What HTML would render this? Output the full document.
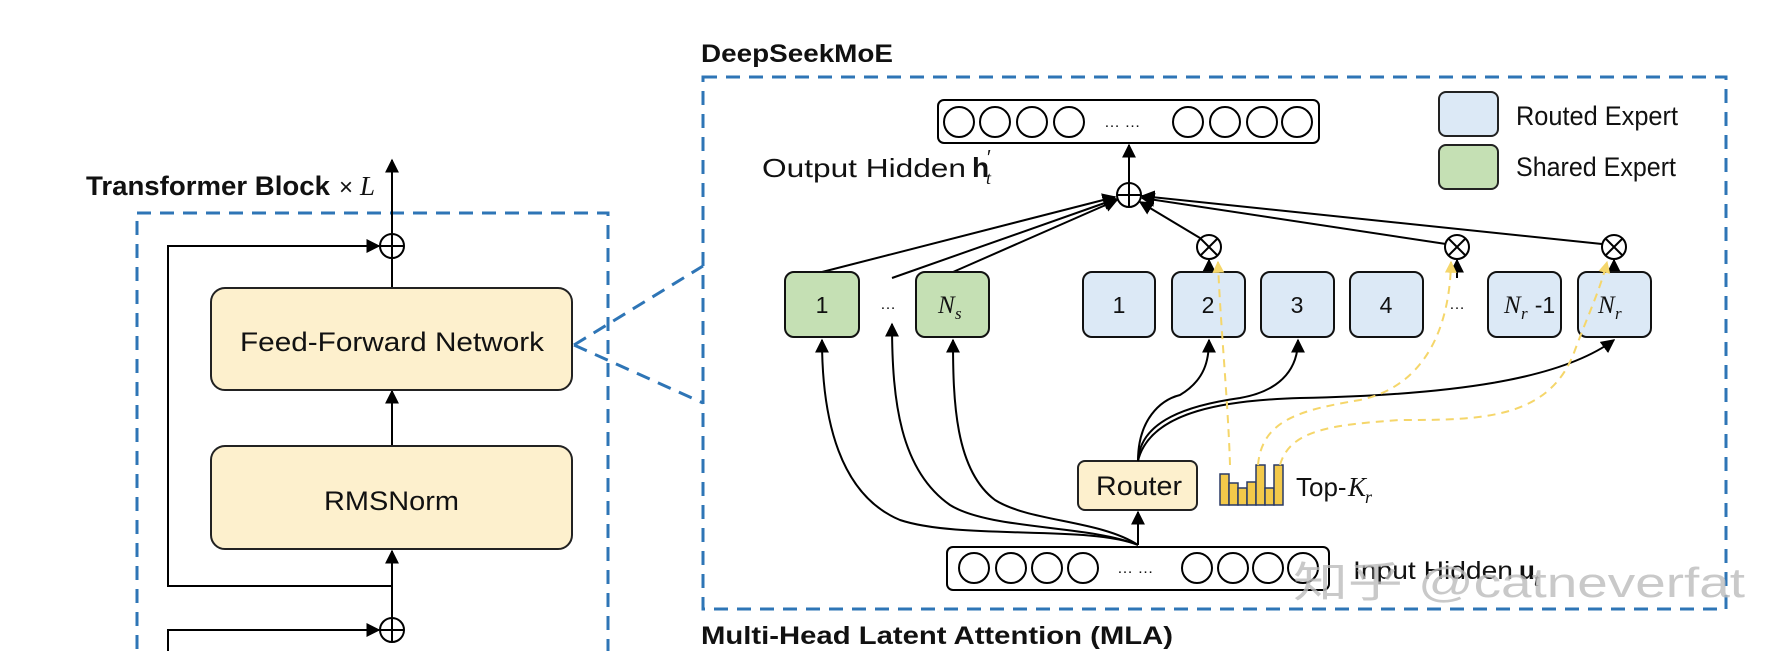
<!DOCTYPE html>
<html><head><meta charset="utf-8"><style>
html,body{margin:0;padding:0;background:#fff;}
svg{display:block;}
text{font-family:"Liberation Sans",sans-serif;fill:#111;}
.m{font-family:"Liberation Serif",serif;font-style:italic;}
</style></head><body>
<svg width="1792" height="651" viewBox="0 0 1792 651" xmlns="http://www.w3.org/2000/svg">
<defs>
<marker id="a" viewBox="0 0 10 10" refX="9" refY="5" markerWidth="7" markerHeight="7" orient="auto-start-reverse"><path d="M0,0 L10,5 L0,10 z" fill="#000"/></marker>
<marker id="y" viewBox="0 0 10 10" refX="9" refY="5" markerWidth="6" markerHeight="6" orient="auto"><path d="M0,0 L10,5 L0,10 z" fill="#f5d66a"/></marker>
</defs>
<rect width="1792" height="651" fill="#fff"/>
<g fill="none" stroke="#2e75b6" stroke-width="3" stroke-dasharray="14,9">
<rect x="137" y="213" width="471" height="460"/>
<rect x="703" y="77" width="1023" height="532"/>
<path d="M574,345 L703,266 M574,345 L703,403"/>
</g>
<text x="86" y="195" font-size="27" font-weight="bold" textLength="244" lengthAdjust="spacingAndGlyphs">Transformer Block</text>
<text x="339" y="195" font-size="24">×</text><text x="360" y="195" font-size="27" class="m">L</text>
<text x="701" y="62" font-size="25" font-weight="bold" textLength="192" lengthAdjust="spacingAndGlyphs">DeepSeekMoE</text>
<text x="701" y="644" font-size="25" font-weight="bold" textLength="472" lengthAdjust="spacingAndGlyphs">Multi-Head Latent Attention (MLA)</text>
<g stroke="#000" stroke-width="2" fill="none">
<line x1="392" y1="288" x2="392" y2="258"/>
<line x1="392" y1="234" x2="392" y2="160" marker-end="url(#a)"/>
<line x1="392" y1="446" x2="392" y2="391" marker-end="url(#a)"/>
<line x1="392" y1="618" x2="392" y2="551" marker-end="url(#a)"/>
<path d="M392,586 L168,586 L168,246 L379,246" marker-end="url(#a)"/>
<path d="M168,651 L168,630 L379,630" marker-end="url(#a)"/>
<circle cx="392" cy="246" r="12"/><path d="M380,246h24M392,234v24"/>
<circle cx="392" cy="630" r="12"/><path d="M380,630h24M392,618v24"/>
</g>
<rect x="211" y="288" width="361" height="102" rx="14" fill="#fdf0cd" stroke="#222" stroke-width="2"/>
<text x="240" y="351" font-size="27" textLength="304" lengthAdjust="spacingAndGlyphs">Feed-Forward Network</text>
<rect x="211" y="446" width="361" height="103" rx="14" fill="#fdf0cd" stroke="#222" stroke-width="2"/>
<text x="324" y="510" font-size="27" textLength="135" lengthAdjust="spacingAndGlyphs">RMSNorm</text>

<rect x="938" y="100" width="381" height="43" rx="6" fill="#fff" stroke="#000" stroke-width="2"/>
<g fill="none" stroke="#000" stroke-width="2">
<circle cx="959" cy="122" r="15"/><circle cx="995" cy="122" r="15"/><circle cx="1032" cy="122" r="15"/><circle cx="1069" cy="122" r="15"/>
<circle cx="1188" cy="122" r="15"/><circle cx="1225" cy="122" r="15"/><circle cx="1262" cy="122" r="15"/><circle cx="1297" cy="122" r="15"/>
</g>
<text x="1104" y="127" font-size="16">… …</text>
<text x="762" y="177" font-size="26" textLength="204" lengthAdjust="spacingAndGlyphs">Output Hidden</text>
<text x="972" y="177" font-size="28" font-weight="bold" font-family="Liberation Serif">h</text><text x="987" y="164" font-size="20" font-family="Liberation Serif">′</text><text x="986" y="184" font-size="18" class="m">t</text>

<rect x="1439" y="92" width="59" height="44" rx="7" fill="#dce9f6" stroke="#222" stroke-width="2"/>
<rect x="1439" y="145" width="59" height="44" rx="7" fill="#c5e0b4" stroke="#222" stroke-width="2"/>
<text x="1516" y="125" font-size="27" textLength="162" lengthAdjust="spacingAndGlyphs">Routed Expert</text>
<text x="1516" y="176" font-size="27" textLength="160" lengthAdjust="spacingAndGlyphs">Shared Expert</text>

<g stroke="#000" stroke-width="2" fill="none">
<line x1="1129" y1="183" x2="1129" y2="145" marker-end="url(#a)"/>
<circle cx="1129" cy="195" r="12"/><path d="M1117,195h24M1129,183v24"/>
<line x1="822" y1="272" x2="1115" y2="197" marker-end="url(#a)"/>
<line x1="892" y1="278" x2="1116" y2="199" marker-end="url(#a)"/>
<line x1="953" y1="272" x2="1117" y2="200" marker-end="url(#a)"/>
<line x1="1200" y1="238" x2="1140" y2="202" marker-end="url(#a)"/>
<line x1="1446" y1="244" x2="1142" y2="198" marker-end="url(#a)"/>
<line x1="1602" y1="244" x2="1142" y2="196" marker-end="url(#a)"/>
<circle cx="1209" cy="247" r="12"/><path d="M1201,239l16,16M1217,239l-16,16"/>
<circle cx="1457" cy="247" r="12"/><path d="M1449,239l16,16M1465,239l-16,16"/>
<circle cx="1614" cy="247" r="12"/><path d="M1606,239l16,16M1622,239l-16,16"/>
<line x1="1209" y1="272" x2="1209" y2="260" marker-end="url(#a)"/>
<line x1="1457" y1="278" x2="1457" y2="260" marker-end="url(#a)"/>
<line x1="1614" y1="272" x2="1614" y2="260" marker-end="url(#a)"/>
</g>

<g stroke="#111" stroke-width="2">
<rect x="785" y="272" width="74" height="65" rx="9" fill="#c5e0b4"/>
<rect x="916" y="272" width="73" height="65" rx="9" fill="#c5e0b4"/>
<rect x="1083" y="272" width="72" height="65" rx="9" fill="#dce9f6"/>
<rect x="1172" y="272" width="73" height="65" rx="9" fill="#dce9f6"/>
<rect x="1261" y="272" width="73" height="65" rx="9" fill="#dce9f6"/>
<rect x="1350" y="272" width="73" height="65" rx="9" fill="#dce9f6"/>
<rect x="1488" y="272" width="73" height="65" rx="9" fill="#dce9f6"/>
<rect x="1578" y="272" width="73" height="65" rx="9" fill="#dce9f6"/>
</g>
<g font-size="23" text-anchor="middle">
<text x="822" y="313">1</text>
<text x="888" y="309" font-size="16">…</text>
<text x="1119" y="313">1</text>
<text x="1208" y="313">2</text>
<text x="1297" y="313">3</text>
<text x="1386" y="313">4</text>
<text x="1457" y="309" font-size="16">…</text>
<text x="1545" y="313">-1</text>
</g>
<text x="938" y="313" class="m" font-size="25">N</text><text x="955" y="319" class="m" font-size="17">s</text>
<text x="1504" y="313" class="m" font-size="25">N</text><text x="1521" y="319" class="m" font-size="17">r</text>
<text x="1598" y="313" class="m" font-size="25">N</text><text x="1615" y="319" class="m" font-size="17">r</text>

<rect x="1078" y="461" width="119" height="49" rx="7" fill="#fdf0cd" stroke="#222" stroke-width="2"/>
<text x="1096" y="495" font-size="27" textLength="86" lengthAdjust="spacingAndGlyphs">Router</text>
<g fill="#f3c94a" stroke="#2a3a66" stroke-width="1.5">
<rect x="1220" y="474" width="9" height="31"/><rect x="1229" y="483" width="9" height="22"/><rect x="1238" y="488" width="9" height="17"/><rect x="1247" y="482" width="9" height="23"/><rect x="1256" y="465" width="9" height="40"/><rect x="1265" y="488" width="9" height="17"/><rect x="1274" y="465" width="9" height="40"/>
</g>
<text x="1296" y="496" font-size="26">Top-</text><text x="1348" y="496" font-size="27" class="m">K</text><text x="1365" y="503" font-size="18" class="m">r</text>

<rect x="947" y="547" width="382" height="43" rx="6" fill="#fff" stroke="#000" stroke-width="2"/>
<g fill="none" stroke="#000" stroke-width="2">
<circle cx="974" cy="568" r="15"/><circle cx="1011" cy="568" r="15"/><circle cx="1047" cy="568" r="15"/><circle cx="1083" cy="568" r="15"/>
<circle cx="1197" cy="568" r="15"/><circle cx="1233" cy="568" r="15"/><circle cx="1268" cy="568" r="15"/><circle cx="1303" cy="568" r="15"/>
</g>
<text x="1117" y="573" font-size="16">… …</text>
<text x="1353" y="579" font-size="25" textLength="160" lengthAdjust="spacingAndGlyphs">Input Hidden</text>
<text x="1519" y="579" font-size="26" font-weight="bold" font-family="Liberation Serif">u</text><text x="1534" y="586" font-size="18" class="m">t</text>

<g stroke="#000" stroke-width="2" fill="none">
<line x1="1138" y1="545" x2="1138" y2="512" marker-end="url(#a)"/>
<path d="M1138,545 C1090,525 960,540 900,520 C840,495 822,420 822,340" marker-end="url(#a)"/>
<path d="M1138,545 C1090,525 990,530 950,505 C900,470 892,400 892,324" marker-end="url(#a)"/>
<path d="M1138,545 C1100,520 1030,522 995,500 C955,470 953,400 953,340" marker-end="url(#a)"/>
<path d="M1138,461 C1138,420 1160,400 1180,395 C1205,380 1209,360 1209,340" marker-end="url(#a)"/>
<path d="M1138,461 C1140,420 1190,405 1240,398 C1285,390 1298,365 1298,340" marker-end="url(#a)"/>
<path d="M1138,461 C1150,410 1230,400 1300,398 C1450,395 1560,380 1614,340" marker-end="url(#a)"/>
</g>
<g stroke="#f5d66a" stroke-width="2" fill="none" stroke-dasharray="8,6">
<path d="M1230,465 C1228,400 1220,320 1218,262" marker-end="url(#y)"/>
<path d="M1258,465 C1262,420 1300,410 1360,400 C1430,385 1450,320 1451,262" marker-end="url(#y)"/>
<path d="M1280,465 C1290,430 1330,425 1400,420 C1480,420 1550,420 1575,350 C1590,310 1600,290 1607,262" marker-end="url(#y)"/>
</g>
<text x="1293" y="597" font-size="42" style="fill:#bcbcbc;opacity:0.8;font-family:'Liberation Sans','Noto Sans CJK SC',sans-serif" textLength="452" lengthAdjust="spacingAndGlyphs">知乎 @catneverfat</text>
</svg>
</body></html>
